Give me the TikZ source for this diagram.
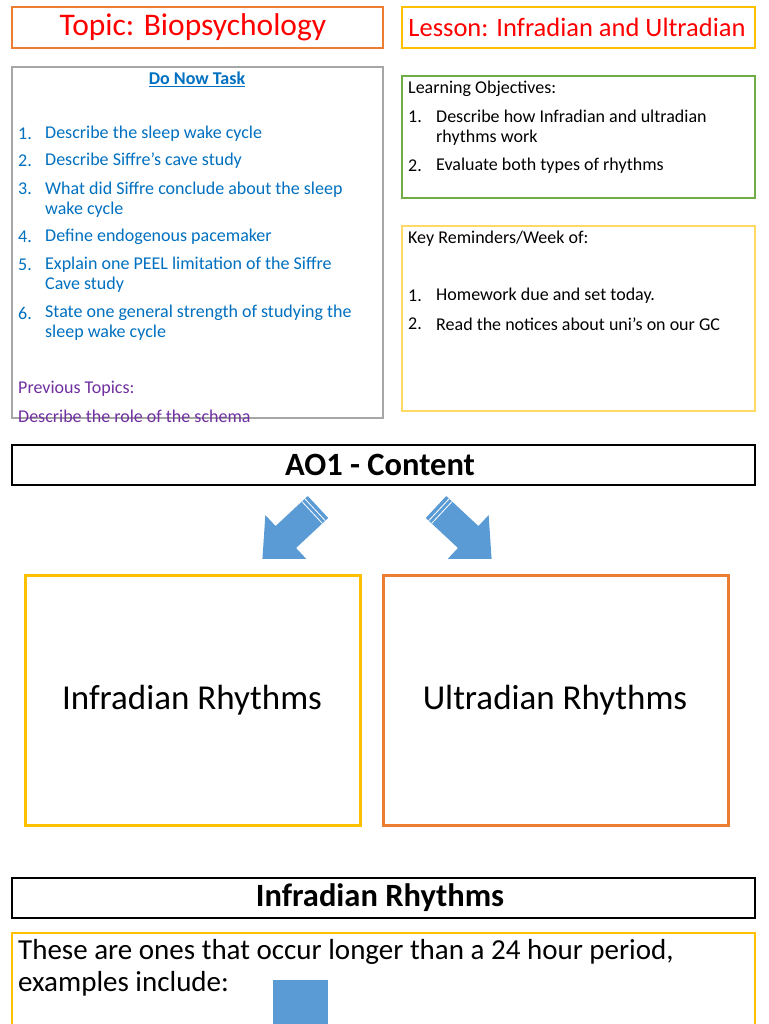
\documentclass[tikz,border=0pt]{standalone}
\usepackage{fontspec}
\setmainfont{Carlito}
\definecolor{dblue}{HTML}{0070C0}
\definecolor{dpurp}{HTML}{7030A0}
\definecolor{org}{HTML}{ED7D31}
\definecolor{ylw}{HTML}{FFC000}
\definecolor{lylw}{HTML}{FFD966}
\definecolor{grn}{HTML}{70AD47}
\definecolor{abl}{HTML}{5B9BD5}
\begin{document}
\begin{tikzpicture}[x=1pt,y=-1pt,
  box/.style={draw,line width=1.5pt},
  txt/.style={anchor=west,inner sep=0pt,font=\fontsize{18}{20}\selectfont,align=left},
  big/.style={font=\fontsize{35}{40}\selectfont},
  hdr/.style={font=\bfseries\fontsize{32.5}{36}\selectfont}]
\useasboundingbox (0,0) rectangle (768,1024);
\fill[white] (0,0) rectangle (768,1024);
% top boxes
\draw[box,org] (12,7) rectangle (383,48);
\node[red,font=\fontsize{31.5}{36}\selectfont] (topic) at (193,27) {Topic: Biopsychology};
\draw[box,ylw] (402,7) rectangle (755,48);
\node[red,font=\fontsize{26.5}{30}\selectfont] (lesson) at (577,27) {Lesson: Infradian and Ultradian};
% do now
\draw[box,gray!70] (12,67) rectangle (383,418);
\node[dblue,font=\bfseries\fontsize{18}{20}\selectfont] (dn) at (197,79) {\underline{Do Now Task}};
\begin{scope}[every node/.style={txt,dblue}]
\node (n1) at (18,134) {1.}; \node (t1) at (45,134) {Describe the sleep wake cycle};
\node (n2) at (18,161) {2.}; \node (t2) at (45,161) {Describe Siffre’s cave study};
\node (n3) at (18,189) {3.}; \node (t3) at (45,199.5) {What did Siffre conclude about the sleep\\wake cycle};
\node (n4) at (18,237) {4.}; \node (t4) at (45,237) {Define endogenous pacemaker};
\node (n5) at (18,265) {5.}; \node (t5) at (45,275) {Explain one PEEL limitation of the Siffre\\Cave study};
\node (n6) at (18,313) {6.}; \node (t6) at (45,323) {State one general strength of studying the\\sleep wake cycle};
\end{scope}
\node[txt,dpurp] (pt) at (18,389) {Previous Topics:};
\node[txt,dpurp] (pt2) at (18,416) {Describe the role of the schema};
% LO
\draw[box,grn] (402,76) rectangle (755,198);
\node[txt] (lo) at (408,89) {Learning Objectives:};
\node[txt] (l1n) at (408,117) {1.}; \node[txt] (l1) at (436,127.5) {Describe how Infradian and ultradian\\rhythms work};
\node[txt] (l2n) at (408,166) {2.}; \node[txt] (l2) at (436,166) {Evaluate both types of rhythms};
% key reminders
\draw[box,lylw] (402,226) rectangle (755,411);
\node[txt] (kr) at (408,239) {Key Reminders/Week of:};
\node[txt] (k1n) at (408,296) {1.}; \node[txt] (k1) at (436,296) {Homework due and set today.};
\node[txt] (k2n) at (408,324) {2.}; \node[txt] (k2) at (436,324) {Read the notices about uni’s on our GC};
% AO1
\draw[box,black] (12,445) rectangle (755,485);
\node[hdr] (ao1) at (380,465) {AO1 - Content};
% arrows
\foreach \px/\py/\a in {{318/507/-137},{436/507/-43}}{
\begin{scope}[shift={(\px,\py)},rotate=\a,x=1pt,y=1pt]
\fill[abl] (0,-15) -- (44,-15) -- (44,-30) -- (76,0) -- (44,30) -- (44,15) -- (0,15) -- cycle;
\draw[white,line width=0.8pt] (4,-15) -- (4,15) (8,-15) -- (8,15);
\end{scope}}
% rhythm boxes
\draw[ylw,line width=3pt] (25,575) rectangle (360,825);
\node[big] (inf) at (192,700) {Infradian Rhythms};
\draw[org,line width=3pt] (383,575) rectangle (728,825);
\node[big] (ult) at (555,700) {Ultradian Rhythms};
% infradian header
\draw[box,black] (12,878) rectangle (755,918);
\node[hdr] (ih) at (380,898) {Infradian Rhythms};
\draw[box,ylw] (12,933) rectangle (755,1030);
\node[anchor=west,inner sep=0pt,font=\fontsize{29}{32}\selectfont,align=left] (body) at (18,968) {These are ones that occur longer than a 24 hour period,\\examples include:};
\fill[abl] (273,980) rectangle (328,1024);
\end{tikzpicture}
\end{document}
